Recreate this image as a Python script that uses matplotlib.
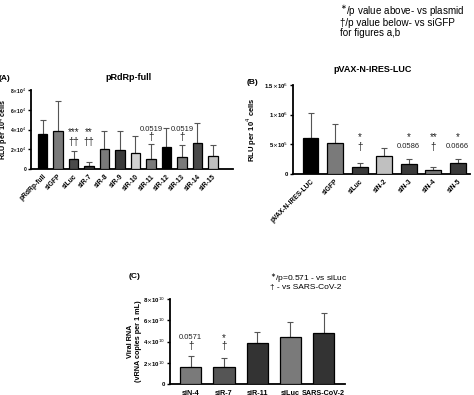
import matplotlib
matplotlib.use("Agg")
import matplotlib.pyplot as plt
import numpy as np

plt.rcParams['font.family'] = ['Liberation Sans', 'DejaVu Sans']

# ---------------- data ----------------
a_labels = ['pRdRp-full', 'siGFP', 'siLuc', 'siR-7', 'siR-8', 'siR-9', 'siR-10',
            'siR-11', 'siR-12', 'siR-13', 'siR-14', 'siR-15']
a_means = [3.55e4, 3.85e4, 1.0e4, 0.35e4, 2.05e4, 1.95e4, 1.6e4, 1.05e4, 2.2e4, 1.2e4, 2.6e4, 1.35e4]
a_sd = [1.41e4, 3.05e4, 0.8e4, 0.35e4, 1.75e4, 1.85e4, 1.7e4, 1.45e4, 2.0e4, 1.2e4, 2.1e4, 1.05e4]
a_ticks = [0, 2e4, 4e4, 6e4, 8e4]
a_ticklabels = ['0', r'2$\times$10$^4$', r'4$\times$10$^4$', r'6$\times$10$^4$', r'8$\times$10$^4$']

b_labels = ['pVAX-N-IRES-LUC', 'siGFP', 'siLuc', 'siN-2', 'siN-3', 'siN-4', 'siN-5']
b_means = [0.60e6, 0.53e6, 0.12e6, 0.30e6, 0.17e6, 0.075e6, 0.18e6]
b_sd = [0.43e6, 0.31e6, 0.06e6, 0.13e6, 0.09e6, 0.04e6, 0.08e6]
b_ticks = [0, 5e5, 1e6, 1.5e6]
b_ticklabels = ['0', r'5$\times$10$^5$', r'1$\times$10$^6$', r'1.5$\times$10$^6$']

c_labels = ['siN-4', 'siR-7', 'siR-11', 'siLuc', 'SARS-CoV-2']
c_means = [1.63e10, 1.58e10, 3.9e10, 4.47e10, 4.78e10]
c_sd = [0.97e10, 0.92e10, 0.98e10, 1.43e10, 1.95e10]
c_ticks = [0, 2e10, 4e10, 6e10, 8e10]
c_ticklabels = ['0', r'2$\times$10$^{10}$', r'4$\times$10$^{10}$', r'6$\times$10$^{10}$', r'8$\times$10$^{10}$']

a_colors = ['#000000', '#7a7a7a', '#4a4a4a', '#333333', '#7a7a7a', '#3a3a3a',
            '#d0d0d0', '#7a7a7a', '#000000', '#7a7a7a', '#4a4a4a', '#c0c0c0']
b_colors = ['#000000', '#7a7a7a', '#3a3a3a', '#c0c0c0', '#3a3a3a', '#777777', '#3a3a3a']
c_colors = ['#7a7a7a', '#555555', '#333333', '#7a7a7a', '#333333']

# ---------------- figure ----------------
fig = plt.figure(figsize=(4.74, 3.95), dpi=100)
fig.patch.set_facecolor('white')


def style(ax, ticks, ticklabels, labels, rot, yfs):
    for s in ['top', 'right']:
        ax.spines[s].set_visible(False)
    for s in ['left', 'bottom']:
        ax.spines[s].set_linewidth(1.3)
    ax.set_yticks(ticks)
    ax.set_yticklabels(ticklabels, fontsize=yfs, fontweight='bold')
    ax.tick_params(axis='y', direction='out', length=2.5, width=1, pad=1)
    ax.set_xticks(np.arange(len(labels)))
    if rot:
        ax.set_xticklabels(labels, rotation=45, ha='right', rotation_mode='anchor',
                           fontsize=4.8, fontweight='bold')
        ax.tick_params(axis='x', length=0, pad=3)
    else:
        ax.set_xticklabels(labels, fontsize=5.2, fontweight='bold')
        ax.tick_params(axis='x', length=0, pad=4)


def bars(ax, means, sd, colors, width):
    x = np.arange(len(means))
    ax.bar(x, means, width=width, color=colors, edgecolor='black', linewidth=0.9, zorder=3)
    ax.errorbar(x, means, yerr=[np.zeros(len(sd)), sd], fmt='none', ecolor='#555555',
                elinewidth=0.8, capsize=2.3, capthick=0.8, zorder=2)


sym = dict(ha='center', va='center', color='#222222')

# Panel A
axA = fig.add_axes([31 / 474, 1 - 169 / 395, (233 - 31) / 474, (169 - 90) / 395])
bars(axA, a_means, a_sd, a_colors, 0.62)
axA.set_xlim(-0.745, 12.3)
axA.set_ylim(0, 8e4)
style(axA, a_ticks, a_ticklabels, a_labels, True, 3.5)
axA.set_ylabel(r'RLU per 10$^4$ cells', fontsize=5.2, fontweight='bold')
axA.yaxis.set_label_coords(-0.097, 0.5)
axA.text(2, 3.7e4, '***', fontsize=7, **sym)
axA.text(2, 2.7e4, '††', fontsize=7, **sym)
axA.text(3, 3.7e4, '**', fontsize=7, **sym)
axA.text(3, 2.7e4, '††', fontsize=7, **sym)
for i in [7, 9]:
    axA.text(i, 4.05e4, '0.0519', fontsize=5.5, **sym)
    axA.text(i, 3.2e4, '†', fontsize=7, **sym)

# Panel B
axB = fig.add_axes([293 / 474, 1 - 174 / 395, (470 - 293) / 474, (174 - 85) / 395])
bars(axB, b_means, b_sd, b_colors, 0.64)
axB.set_xlim(-0.72, 6.5)
axB.set_ylim(0, 1.5e6)
style(axB, b_ticks, b_ticklabels, b_labels, True, 4.2)
axB.set_ylabel(r'RLU per 10$^4$ cells', fontsize=5.5, fontweight='bold')
axB.yaxis.set_label_coords(-0.19, 0.5)
for i, top, bot in [(2, '*', '†'), (4, '*', '0.0586'), (5, '**', '†'), (6, '*', '0.0666')]:
    axB.text(i, 0.63e6, top, fontsize=7, **sym)
    if bot == '†':
        axB.text(i, 0.46e6, bot, fontsize=7, **sym)
    else:
        axB.text(i, 0.46e6, bot, fontsize=5.5, **sym)

# Panel C
axC = fig.add_axes([170 / 474, 1 - 384 / 395, (345 - 170) / 474, (384 - 299.3) / 395])
bars(axC, c_means, c_sd, c_colors, 0.64)
axC.set_xlim(-0.62, 4.64)
axC.set_ylim(0, 8e10)
style(axC, c_ticks, c_ticklabels, c_labels, False, 4.3)
axC.set_ylabel('Viral RNA\n(vRNA copies per 1 mL)', fontsize=5.2, fontweight='bold',
               labelpad=1, linespacing=1.1)
axC.text(0, 4.41e10, '0.0571', fontsize=5.5, **sym)
axC.text(0, 3.55e10, '†', fontsize=7, **sym)
axC.text(1, 4.35e10, '*', fontsize=7, **sym)
axC.text(1, 3.55e10, '†', fontsize=7, **sym)

# Titles, panel letters and notes
fig.text(128 / 474, 1 - 77 / 395, 'pRdRp-full', ha='center', va='center', fontsize=6.5,
         fontweight='bold')
fig.text(373 / 474, 1 - 70 / 395, 'pVAX-N-IRES-LUC', ha='center', va='center', fontsize=6.5,
         fontweight='bold')
fig.text(-1 / 474, 1 - 78 / 395, '(A)', ha='left', va='center', fontsize=6, fontweight='bold')
fig.text(247 / 474, 1 - 83 / 395, '(B)', ha='left', va='center', fontsize=6, fontweight='bold')
fig.text(129 / 474, 1 - 276 / 395, '(C)', ha='left', va='center', fontsize=6, fontweight='bold')

fig.text(340 / 474, 1 - 11 / 395, r'$^{\ast}$/p value above- vs plasmid', ha='left', va='center',
         fontsize=7.1)
fig.text(340 / 474, 1 - 23 / 395, '†/p value below- vs siGFP', ha='left', va='center',
         fontsize=7.1)
fig.text(340 / 474, 1 - 33.5 / 395, 'for figures a,b', ha='left', va='center', fontsize=7.1)

fig.text(270 / 474, 1 - 278 / 395, r'$^{\ast}$/p=0.571 - vs siLuc', ha='left', va='center',
         fontsize=6)
fig.text(270 / 474, 1 - 288 / 395, '† - vs SARS-CoV-2', ha='left', va='center', fontsize=6)

fig.savefig('out.png', dpi=100)
